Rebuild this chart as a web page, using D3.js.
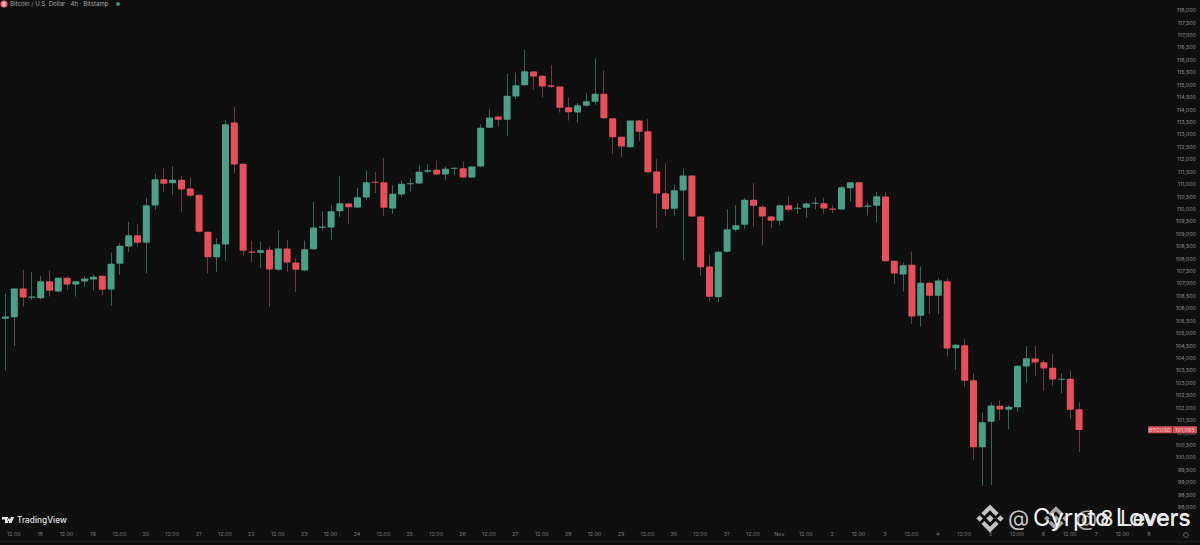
<!DOCTYPE html>
<html><head><meta charset="utf-8">
<script src="https://cdnjs.cloudflare.com/ajax/libs/d3/7.8.5/d3.min.js"></script>
<style>html,body{margin:0;padding:0;background:#0f0f0f;overflow:hidden}svg{display:block}text{font-family:"Inter","Roboto",sans-serif}</style>
</head><body><svg id="c" width="1200" height="545"></svg>
<script>
const opens=[105566,105633,106787,106412,106398,107083,106666,107217,106948,107069,107150,107297,106747,107780,108478,108934,108626,110129,111189,111028,111162,110813,110558,109069,108049,108559,113470,111806,108277,108223,108344,107539,108398,107834,107512,108371,109230,109244,109901,110210,110049,110451,111082,111069,110008,110572,110988,111015,111485,111565,111377,111619,111632,111257,111699,113256,113712,113578,114518,114974,115524,115349,114973,114920,114088,113873,114141,114302,114625,113645,112893,112477,113551,113122,111498,110625,109995,110733,111337,109686,107673,106438,108263,109149,109350,110357,110075,109686,109512,110142,109995,110035,110196,110223,110008,109968,110827,111068,110075,110116,110491,107901,107351,107740,105687,107016,106492,107083,104385,104506,103097,100400,101419,102064,101903,102010,103647,103969,103822,103594,103110,103151,101929];
const highs=[106573,106800,107539,107445,107297,107512,107230,107270,107083,107297,107351,107310,108237,108612,109471,109377,110424,111404,111632,111699,111323,111256,110570,109080,108814,113578,114115,111820,108706,108679,108478,109123,108747,108009,108720,110277,109901,110143,111324,110223,110841,111538,111485,112048,110948,111136,111216,111766,111807,111941,111699,111646,111901,111726,113390,114008,113725,115430,115484,116396,115538,115360,115792,114920,114490,114249,114651,116060,115564,113645,112893,113551,113578,113605,111994,111833,110961,111592,111350,109700,108156,108275,109981,110156,110424,111028,110156,109713,110169,110491,110223,110250,110465,110438,110156,110921,111080,111080,110250,110679,110679,107915,107834,108277,107673,107069,107203,107203,104560,104748,103379,101795,102198,102278,102090,103701,104479,104479,103916,104157,103379,103486,102211];
const lows=[103486,104479,106063,106331,106358,106465,106640,106734,106465,106868,106707,106519,106089,107337,108250,108478,107405,109954,110666,110558,109847,110491,109042,107405,107458,107901,111431,108102,107847,107606,106063,107512,107472,106640,107486,108344,109123,108747,109660,109391,110035,110357,110626,109713,109794,110465,110679,111002,111431,111364,111136,111350,111243,111243,111673,113243,113296,112934,114410,114960,114786,114477,114853,113873,113551,113470,114115,114182,113618,112209,112075,112477,112719,111457,109216,109713,109726,107915,109670,107297,106264,106237,108237,109082,109176,109283,108532,109216,109337,109887,109793,109646,109981,109794,109820,109955,110290,110049,109726,109445,107874,106975,106667,105365,105258,105768,105768,104050,103513,102815,99890,98843,98883,101473,101124,101835,103003,103271,102668,102869,102574,101527,100198];
const closes=[105660,106787,106425,106465,107083,106693,107217,106948,107083,107190,107257,106734,107780,108505,108934,108626,110142,111189,111001,111162,110773,110518,109069,108049,108572,113403,111780,108304,108223,108331,107552,108398,107834,107539,108371,109244,109284,109901,110223,110062,110465,111069,111055,110035,110599,111002,111028,111485,111552,111377,111605,111646,111257,111699,113256,113672,113578,114544,114974,115538,115323,114920,114906,114061,113886,114168,114329,114625,113645,112880,112504,113551,113095,111471,110612,109981,110746,111337,109686,107646,106452,108263,109176,109337,110357,110115,109686,109512,110142,109954,110035,110209,110236,110008,109955,110867,111068,110062,110129,110505,107888,107391,107727,105660,107016,106492,107110,104372,104519,103070,100400,101406,102077,101916,102023,103674,103983,103808,103567,103124,103151,101903,101093];
const priceTicks=d3.range(98000,118001,500);
const dayLabels=["18","19","20","21","22","23","24","25","26","27","28","29","30","31","Nov","2","3","4","5","6","7","8"];
const title="Bitcoin / U.S. Dollar · 4h · Bitstamp";
const symbol="BTCUSD", lastPrice=101093;

const UP="#4c9f89",DOWN="#e6505a",UPW="#38665b",DOWNW="#6a3d44",BG="#0f0f0f";
const svg=d3.select("#c");
svg.append("rect").attr("width",1200).attr("height",545).attr("fill",BG);
const x=d3.scaleLinear().domain([0,122]).range([5,1078.6]);
const y=d3.scaleLinear().domain([118000,98000]).range([10,506.8]);
const fmt=d3.format(",");
const idx=d3.range(opens.length);
const bw=7;
const g=svg.append("g");
g.selectAll("line").data(idx).join("line")
 .attr("x1",i=>Math.round(x(i))+.5).attr("x2",i=>Math.round(x(i))+.5)
 .attr("y1",i=>y(highs[i])).attr("y2",i=>y(lows[i]))
 .attr("stroke",i=>closes[i]>=opens[i]?UPW:DOWNW).attr("stroke-width",1);
g.selectAll("rect").data(idx).join("rect")
 .attr("x",i=>x(i)-bw/2+.5).attr("width",bw)
 .attr("y",i=>y(Math.max(opens[i],closes[i])))
 .attr("height",i=>Math.max(1,Math.abs(y(opens[i])-y(closes[i]))))
 .attr("rx",.8)
 .attr("fill",i=>closes[i]>=opens[i]?UP:DOWN);

// right price axis
const ya=svg.append("g").attr("transform","translate(1196,0)")
 .call(d3.axisRight(y).tickValues(priceTicks).tickFormat(fmt).tickSize(0).tickPadding(0));
ya.select(".domain").remove();
ya.selectAll("text").attr("text-anchor","end").attr("font-size",5.4).attr("fill","#8f8f8f").attr("font-family","Inter");

// time axis
const timeTicks=[];
dayLabels.forEach((d,k)=>{timeTicks.push({i:1+6*k,t:"12:00"});timeTicks.push({i:4+6*k,t:d});});
svg.append("line").attr("x1",0).attr("x2",1200).attr("y1",541.5).attr("y2",541.5).attr("stroke","#1e1e1e");
svg.append("g").selectAll("text").data(timeTicks).join("text")
 .attr("x",d=>x(d.i)).attr("y",536).attr("text-anchor","middle")
 .attr("font-size",5.4).attr("fill","#7d7d7d").text(d=>d.t);
svg.append("circle").attr("cx",1186).attr("cy",535).attr("r",2.4).attr("fill","none").attr("stroke","#777").attr("stroke-width",.8);

// last price tag
const ty=y(lastPrice);
svg.append("rect").attr("x",1148).attr("y",ty-3.6).attr("width",49).attr("height",7).attr("rx",.8).attr("fill","#d9505a");
svg.append("line").attr("x1",1172.5).attr("x2",1172.5).attr("y1",ty-3.6).attr("y2",ty+3.4).attr("stroke",BG).attr("stroke-width",.6);
svg.append("text").attr("x",1160).attr("y",ty+2).attr("text-anchor","middle").attr("font-size",5.4).attr("fill","#f3c4c8").text(symbol);
svg.append("text").attr("x",1185).attr("y",ty+2).attr("text-anchor","middle").attr("font-size",5.4).attr("fill","#f3c4c8").text(fmt(lastPrice));

// header
svg.append("circle").attr("cx",4).attr("cy",4).attr("r",3.6).attr("fill","#e8606a");
svg.append("text").attr("x",4).attr("y",5.8).attr("text-anchor","middle").attr("font-size",5).attr("fill","#fff").text("₿");
svg.append("text").attr("x",10).attr("y",6.3).attr("font-size",6.1).attr("fill","#a8a8a8").text(title);
svg.append("circle").attr("cx",118).attr("cy",4).attr("r",2).attr("fill","#3f8f7a");

// TradingView mark
svg.append("path").attr("fill","#e6e6e6").attr("d","M2 517h6v6H5v-3.4H2zM8.6 518.3a1.3 1.3 0 1 0 .01 0zM11 517h3.2l-2.7 6H8.4z");
svg.append("text").attr("x",17).attr("y",523.3).attr("font-size",8.3).attr("font-weight",500).attr("fill","#e2e2e2").text("TradingView");

// watermark
function binance(cx,cy,s,fill){
 const l=svg.append("g").attr("transform",`translate(${cx},${cy}) scale(${s})`).attr("fill",fill);
 l.append("path").attr("d","M0 -3.4L3.4 0L0 3.4L-3.4 0Z");
 l.append("path").attr("d","M-9.6 -3L-6.6 0L-9.6 3L-12.6 0Z");
 l.append("path").attr("d","M9.6 -3L12.6 0L9.6 3L6.6 0Z");
 l.append("path").attr("d","M0 -13L8 -5L5.2 -2.4L0 -7.6L-5.2 -2.4L-8 -5Z");
 l.append("path").attr("d","M0 13L8 5L5.2 2.4L0 7.6L-5.2 2.4L-8 5Z");
}
binance(990,518.5,1.08,"#c4c4c4");
binance(1056,518.5,.95,"#a8a8a8");
const wf="Open Sans";
svg.append("text").attr("x",1008).attr("y",526).attr("font-size",22).attr("font-family",wf).attr("fill","#c4c4c4").text("@");
svg.append("text").attr("x",1076).attr("y",526).attr("font-size",22).attr("font-family",wf).attr("fill","#a8a8a8").text("@");
svg.append("text").attr("x",1033).attr("y",526).attr("font-size",24).attr("font-family",wf).attr("fill","#f4f4f4").attr("textLength",158).text("Cyrpto Lovers");
svg.append("text").attr("x",1100).attr("y",526).attr("font-size",22).attr("font-family",wf).attr("fill","#e8e8e8").attr("textLength",90).text("8 Levers");
</script></body></html>
